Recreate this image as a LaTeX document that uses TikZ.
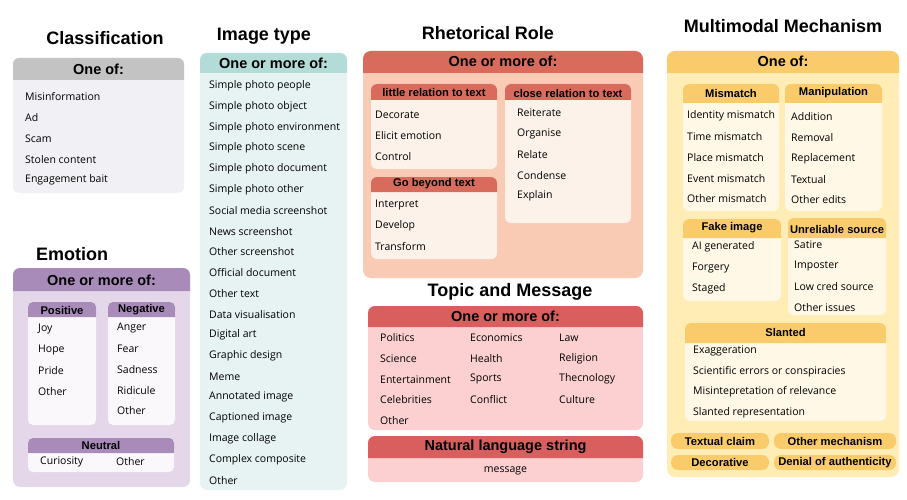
\documentclass[tikz,border=0pt]{standalone}
\usepackage{fontspec}
\setmainfont{Open Sans}
\newfontfamily\headfont{Liberation Sans}
\usetikzlibrary{positioning}

\definecolor{clsHead}{HTML}{C3C3C3}
\definecolor{clsBody}{HTML}{F1F0F5}
\definecolor{emoHead}{HTML}{A98BBA}
\definecolor{emoBody}{HTML}{E4D7EA}
\definecolor{emoSub}{HTML}{FBF8FB}
\definecolor{imgHead}{HTML}{B3DCD8}
\definecolor{imgBody}{HTML}{E7F3F3}
\definecolor{rhetHead}{HTML}{D96B5C}
\definecolor{rhetBody}{HTML}{F9CBB4}
\definecolor{rhetSub}{HTML}{FDF2EA}
\definecolor{topHead}{HTML}{D95F5F}
\definecolor{topBody}{HTML}{FCD0D0}
\definecolor{mmHead}{HTML}{F9CB6A}
\definecolor{mmBody}{HTML}{FFEDB5}
\definecolor{mmSub}{HTML}{FFF8E6}

\tikzset{
  title/.style={font=\headfont\bfseries\fontsize{18}{20}\selectfont},
  head/.style={font=\headfont\bfseries\fontsize{14.5}{16}\selectfont},
  subhead/.style={font=\headfont\bfseries\fontsize{11.2}{12}\selectfont},
  item/.style={anchor=west,inner sep=0pt,font=\fontsize{10.5}{12}\selectfont},
}

% panel: x1 y1 x2 y2 yhead body head radius
\newcommand\panel[8]{%
  \fill[#6,rounded corners=#8] (#1,#2) rectangle (#3,#4);
  \fill[#7] (#1,#5) [rounded corners=#8] -- (#1,#2) -- (#3,#2) [sharp corners] -- (#3,#5) -- cycle;
}

\begin{document}
\begin{tikzpicture}[x=1pt,y=-1pt]
\useasboundingbox (0,0) rectangle (907,500);

% Classification
\node[title] (clsT) at (105,38) {Classification};
\panel{13}{58}{184}{193}{80}{clsBody}{clsHead}{6}
\node[head] (clsH) at (98.5,69) {One of:};
\foreach \t [count=\i] in {Misinformation,Ad,Scam,Stolen content,Engagement bait}
  \node[item] (cls-\i) at (25,{97+20.7*(\i-1)}) {\t};

% Emotion
\node[title] (emoT) at (72,254) {Emotion};
\panel{13}{268}{190}{487}{291}{emoBody}{emoHead}{7}
\node[head] (emoH) at (101.5,280) {One or more of:};
\panel{28}{302}{96}{425}{317}{emoSub}{emoHead}{5}
\node[subhead] (posH) at (62,310) {Positive};
\foreach \t [count=\i] in {Joy,Hope,Pride,Other}
  \node[item] (pos-\i) at (38,{329+20.7*(\i-1)}) {\t};
\panel{108}{302}{175}{425}{317}{emoSub}{emoHead}{5}
\node[subhead] (negH) at (141.5,310) {Negative};
\foreach \t [count=\i] in {Anger,Fear,Sadness,Ridicule,Other}
  \node[item] (neg-\i) at (117,{328+20.7*(\i-1)}) {\t};
\panel{28}{438}{174}{472}{453}{emoSub}{emoHead}{5}
\node[subhead] (neuH) at (101,445) {Neutral};
\node[item] (neu-1) at (40,462) {Curiosity};
\node[item] (neu-2) at (116,462) {Other};

% Image type
\node[title] (imgT) at (264,36) {Image type};
\panel{200}{53}{347}{490}{73}{imgBody}{imgHead}{7}
\node[head] (imgH) at (273.5,63) {One or more of:};
\foreach \t [count=\i] in {Simple photo people,Simple photo object,Simple photo environment,
  Simple photo scene,Simple photo document,Simple photo other,Social media screenshot,
  News screenshot,Other screenshot,Official document,Other text,Data visualisation,
  Digital art,Graphic design,Meme,Annotated image,Captioned image,Image collage,
  Complex composite,Other}
  \node[item] (img-\i) at (209,{86+20.74*(\i-1)}) {\t};

% Rhetorical role
\node[title] (rhetT) at (488,33) {Rhetorical Role};
\panel{363}{51}{643}{278}{73}{rhetBody}{rhetHead}{8}
\node[head] (rhetH) at (503,61) {One or more of:};
\panel{371}{84}{497}{169}{100}{rhetSub}{rhetHead}{6}
\node[subhead] (littleH) at (434,92) {little relation to text};
\foreach \t [count=\i] in {Decorate,Elicit emotion,Control}
  \node[item] (little-\i) at (375,{115+20.7*(\i-1)}) {\t};
\panel{505}{84}{631}{223}{100}{rhetSub}{rhetHead}{6}
\node[subhead] (closeH) at (568,93) {close relation to text};
\foreach \t [count=\i] in {Reiterate,Organise,Relate,Condense,Explain}
  \node[item] (close-\i) at (517,{113+20.7*(\i-1)}) {\t};
\panel{371}{177}{497}{259}{192}{rhetSub}{rhetHead}{6}
\node[subhead] (beyondH) at (434,184) {Go beyond text};
\foreach \t [count=\i] in {Interpret,Develop,Transform}
  \node[item] (beyond-\i) at (375,{205+20.7*(\i-1)}) {\t};

% Topic and message
\node[title] (topT) at (510,292) {Topic and Message};
\panel{368}{306}{643}{430}{327}{topBody}{topHead}{7}
\node[head] (topH) at (505.5,316) {One or more of:};
\foreach \t [count=\i] in {Politics,Science,Entertainment,Celebrities,Other}
  \node[item] (topa-\i) at (380,{338+20.6*(\i-1)}) {\t};
\foreach \t [count=\i] in {Economics,Health,Sports,Conflict}
  \node[item] (topb-\i) at (470,{338+20.6*(\i-1)}) {\t};
\foreach \t [count=\i] in {Law,Religion,Thecnology,Culture}
  \node[item] (topc-\i) at (559,{338+20.6*(\i-1)}) {\t};
\panel{368}{436}{643}{482}{458}{topBody}{topHead}{7}
\node[head] (nlsH) at (505.5,447) {Natural language string};
\node[item,anchor=center] (nls-1) at (505.5,471) {message};

% Multimodal mechanism
\node[title] (mmT) at (783,26) {Multimodal Mechanism};
\panel{667}{51}{899}{477}{73}{mmBody}{mmHead}{8}
\node[head] (mmH) at (783,61) {One of:};
\panel{683}{84}{779}{211}{103}{mmSub}{mmHead}{6}
\node[subhead] (misH) at (731,93) {Mismatch};
\foreach \t [count=\i] in {Identity mismatch,Time mismatch,Place mismatch,Event mismatch,Other mismatch}
  \node[item] (mis-\i) at (687,{116+20.7*(\i-1)}) {\t};
\panel{785}{84}{882}{211}{103}{mmSub}{mmHead}{6}
\node[subhead] (manH) at (833.5,93) {Manipulation};
\foreach \t [count=\i] in {Addition,Removal,Replacement,Textual,Other edits}
  \node[item] (man-\i) at (791,{117+20.7*(\i-1)}) {\t};
\panel{683}{219}{781}{301}{238}{mmSub}{mmHead}{6}
\node[subhead] (fakeH) at (732,228) {Fake image};
\foreach \t [count=\i] in {AI generated,Forgery,Staged}
  \node[item] (fake-\i) at (692,{247+20.7*(\i-1)}) {\t};
\panel{788}{218}{886}{315}{238}{mmSub}{mmHead}{6}
\node[subhead] (unrH) at (837,229) {Unreliable source};
\foreach \t [count=\i] in {Satire,Imposter,Low cred source,Other issues}
  \node[item] (unr-\i) at (794,{245+20.7*(\i-1)}) {\t};
\panel{685}{323}{886}{421}{343}{mmSub}{mmHead}{6}
\node[subhead] (slaH) at (785.5,332) {Slanted};
\foreach \t [count=\i] in {Exaggeration,Scientific errors or conspiracies,Misintepretation of relevance,Slanted representation}
  \node[item] (sla-\i) at (693,{351+20.5*(\i-1)}) {\t};
\fill[mmHead,rounded corners=7] (671,433) rectangle (769,449);
\fill[mmHead,rounded corners=7] (774,433) rectangle (896,449);
\fill[mmHead,rounded corners=7] (671,455) rectangle (769,470);
\fill[mmHead,rounded corners=7] (774,455) rectangle (896,470);
\node[subhead] (txtc) at (720,441) {Textual claim};
\node[subhead] (othm) at (835,441) {Other mechanism};
\node[subhead] (deco) at (720,462.5) {Decorative};
\node[subhead] (deny) at (835,462.5) {Denial of authenticity};
\end{tikzpicture}
\end{document}
